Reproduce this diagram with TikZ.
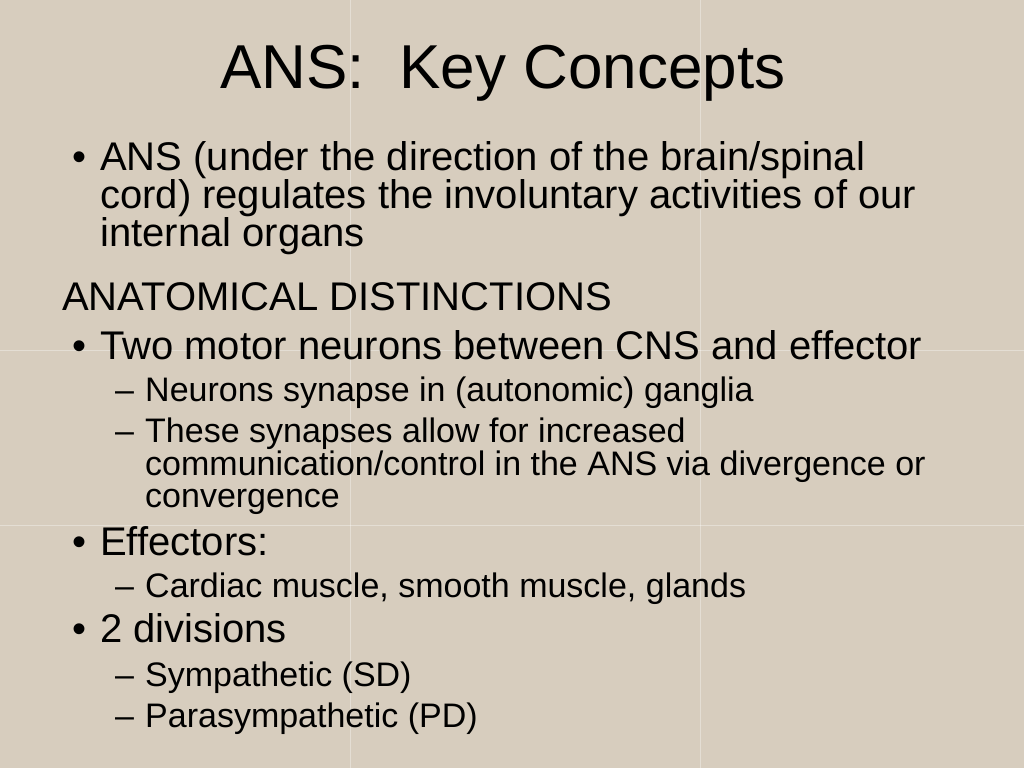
\documentclass[tikz,border=0pt]{standalone}
\usepackage{fontspec}
\setmainfont{Liberation Sans}
\definecolor{paper}{RGB}{215,205,190}
\begin{document}
\begin{tikzpicture}[x=1pt,y=-1pt]
  \tikzstyle{Txt}   = [anchor=base west, inner sep=0pt, font=\fontsize{40}{46}\selectfont]
  \tikzstyle{Sub}   = [anchor=base west, inner sep=0pt, font=\fontsize{34}{40}\selectfont]
  \tikzstyle{Seam}  = [white, opacity=0.35, line width=1pt]
  \fill[paper] (0,0) rectangle (1024,768);
  \useasboundingbox (0,0) rectangle (1024,768);
  \foreach \x in {350,700}
    \draw[Seam] (\x,0) -- (\x,768);
  \foreach \y in {350,525}
    \draw[Seam] (0,\y) -- (1024,\y);
  \node (title) at (220,88) [anchor=base west, inner sep=0pt, font=\fontsize{62}{72}\selectfont] {ANS:\ \ Key Concepts};
  % bullets
  \foreach \n/\y in {b1/170, b2/359, b3/555, b4/642}
    \node (\n) at (72,\y) [Txt] {•};
  \node (t1a) at (100,170) [Txt] {ANS (under the direction of the brain/spinal};
  \node (t1b) at (100,208) [Txt] {cord) regulates the involuntary activities of our};
  \node (t1c) at (100,246) [Txt] {internal organs};
  \node (ana) at (62,310) [Txt] {ANATOMICAL DISTINCTIONS};
  \node (t2) at (100,359) [Txt] {Two motor neurons between CNS and effector};
  \node (t3) at (100,555) [Txt] {Effectors:};
  \node (t4) at (100,642) [Txt] {2 divisions};
  % sub items
  \foreach \n/\y in {d1/401, d2/442, d3/597, d4/686, d5/727}
    \node (\n) at (115,\y) [Sub] {–};
  \node (s1) at (145,401) [Sub] {Neurons synapse in (autonomic) ganglia};
  \node (s2a) at (145,442) [Sub] {These synapses allow for increased};
  \node (s2b) at (145,475) [Sub] {communication/control in the ANS via divergence or};
  \node (s2c) at (145,507) [Sub] {convergence};
  \node (s3) at (145,597) [Sub] {Cardiac muscle, smooth muscle, glands};
  \node (s4) at (145,686) [Sub] {Sympathetic (SD)};
  \node (s5) at (145,727) [Sub] {Parasympathetic (PD)};
\end{tikzpicture}
\end{document}
